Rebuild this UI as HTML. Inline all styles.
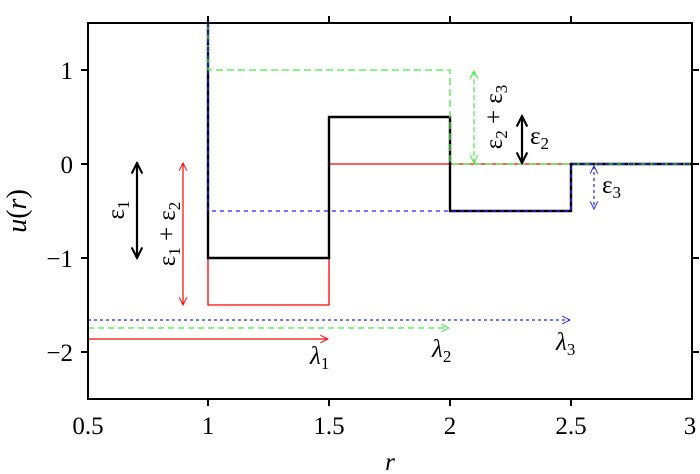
<!DOCTYPE html>
<html><head><style>body{margin:0;background:#fff}svg{display:block}text{font-family:"Liberation Serif",serif;}</style></head><body>
<svg width="700" height="474" viewBox="0 0 700 474" xmlns="http://www.w3.org/2000/svg">
<defs>
<marker id="ak" viewBox="0 0 10 10" refX="9" refY="5" markerWidth="6" markerHeight="6" orient="auto-start-reverse"><path d="M1,1 L9,5 L1,9" fill="none" stroke="#000" stroke-width="1.6"/></marker>
<marker id="ar" viewBox="0 0 10 10" refX="9" refY="5" markerWidth="8" markerHeight="8" orient="auto-start-reverse"><path d="M1,1 L9,5 L1,9" fill="none" stroke="#f00" stroke-width="1"/></marker>
<marker id="ag" viewBox="0 0 10 10" refX="9" refY="5" markerWidth="8" markerHeight="8" orient="auto-start-reverse"><path d="M1,1 L9,5 L1,9" fill="none" stroke="#3e3" stroke-width="1"/></marker>
<marker id="ab" viewBox="0 0 10 10" refX="9" refY="5" markerWidth="8" markerHeight="8" orient="auto-start-reverse"><path d="M1,1 L9,5 L1,9" fill="none" stroke="#22f" stroke-width="1"/></marker>
</defs>
<polyline points="208,23 208,305 329,305 329,164 692,164" fill="none" stroke="#f00" stroke-width="1.3"/>
<polyline points="208,23 208,258 329,258 329,117 450,117 450,211 571,211 571,164 692,164" fill="none" stroke="#000" stroke-width="2.4"/>
<polyline points="208,23 208,70 450,70 450,164 692,164" fill="none" stroke="#4e4" stroke-width="1.3" stroke-dasharray="7,4"/>
<polyline points="208,23 208,211 571,211 571,164 692,164" fill="none" stroke="#22f" stroke-width="1.3" stroke-dasharray="4,4"/>
<line x1="137" y1="163" x2="137" y2="258" stroke="#000" stroke-width="2.2" marker-start="url(#ak)" marker-end="url(#ak)"/>
<line x1="183" y1="163" x2="183" y2="305" stroke="#f00" stroke-width="1.2" marker-start="url(#ar)" marker-end="url(#ar)"/>
<line x1="474" y1="71" x2="474" y2="163" stroke="#4e4" stroke-width="1.2" stroke-dasharray="5,3" marker-start="url(#ag)" marker-end="url(#ag)"/>
<line x1="522" y1="116" x2="522" y2="163" stroke="#000" stroke-width="2.2" marker-start="url(#ak)" marker-end="url(#ak)"/>
<line x1="594" y1="166" x2="594" y2="209" stroke="#22f" stroke-width="1.2" stroke-dasharray="3,3" marker-start="url(#ab)" marker-end="url(#ab)"/>
<line x1="88" y1="339" x2="328" y2="339" stroke="#f00" stroke-width="1.2" marker-end="url(#ar)"/>
<line x1="88" y1="328" x2="449" y2="328" stroke="#4e4" stroke-width="1.2" stroke-dasharray="6,4" marker-end="url(#ag)"/>
<line x1="88" y1="320" x2="570" y2="320" stroke="#22f" stroke-width="1.2" stroke-dasharray="3,3" marker-end="url(#ab)"/>
<g font-size="25">
<text transform="translate(124,210) rotate(-90)" text-anchor="middle">ε<tspan font-size="17" dy="5">1</tspan></text>
<text transform="translate(175,234) rotate(-90)" text-anchor="middle">ε<tspan font-size="17" dy="5">1</tspan><tspan dy="-5"> + </tspan>ε<tspan font-size="17" dy="5">2</tspan></text>
<text transform="translate(502,117) rotate(-90)" text-anchor="middle">ε<tspan font-size="17" dy="5">2</tspan><tspan dy="-5"> + </tspan>ε<tspan font-size="17" dy="5">3</tspan></text>
<text x="530" y="144">ε<tspan font-size="17" dy="5">2</tspan></text>
<text x="602" y="193">ε<tspan font-size="17" dy="5">3</tspan></text>
<text x="310" y="364" font-style="italic">λ<tspan font-size="17" dy="5" font-style="normal">1</tspan></text>
<text x="432" y="357" font-style="italic">λ<tspan font-size="17" dy="5" font-style="normal">2</tspan></text>
<text x="556" y="350" font-style="italic">λ<tspan font-size="17" dy="5" font-style="normal">3</tspan></text>
</g>
<rect x="88" y="23" width="604" height="376" fill="none" stroke="#000" stroke-width="2"/>
<g stroke="#000" stroke-width="2">
<line x1="208" y1="16" x2="208" y2="23"/><line x1="329" y1="16" x2="329" y2="23"/><line x1="450" y1="16" x2="450" y2="23"/><line x1="571" y1="16" x2="571" y2="23"/>
<line x1="208" y1="399" x2="208" y2="406"/><line x1="329" y1="399" x2="329" y2="406"/><line x1="450" y1="399" x2="450" y2="406"/><line x1="571" y1="399" x2="571" y2="406"/>
<line x1="81" y1="70" x2="88" y2="70"/><line x1="81" y1="164" x2="88" y2="164"/><line x1="81" y1="258" x2="88" y2="258"/><line x1="81" y1="352" x2="88" y2="352"/>
<line x1="692" y1="70" x2="699" y2="70"/><line x1="692" y1="164" x2="699" y2="164"/><line x1="692" y1="258" x2="699" y2="258"/><line x1="692" y1="352" x2="699" y2="352"/>
</g>
<g font-size="25" text-anchor="middle">
<text x="88" y="434">0.5</text><text x="208" y="434">1</text><text x="329" y="434">1.5</text><text x="450" y="434">2</text><text x="571" y="434">2.5</text><text x="690" y="434">3</text>
<text x="390" y="470" font-style="italic">r</text>
</g>
<g font-size="25" text-anchor="end">
<text x="73" y="79">1</text><text x="73" y="173">0</text><text x="73" y="267">−1</text><text x="73" y="361">−2</text>
</g>
<text transform="translate(26,211) rotate(-90)" text-anchor="middle" font-size="28" font-style="italic">u<tspan font-style="normal">(</tspan>r<tspan font-style="normal">)</tspan></text>
</svg>
</body></html>
